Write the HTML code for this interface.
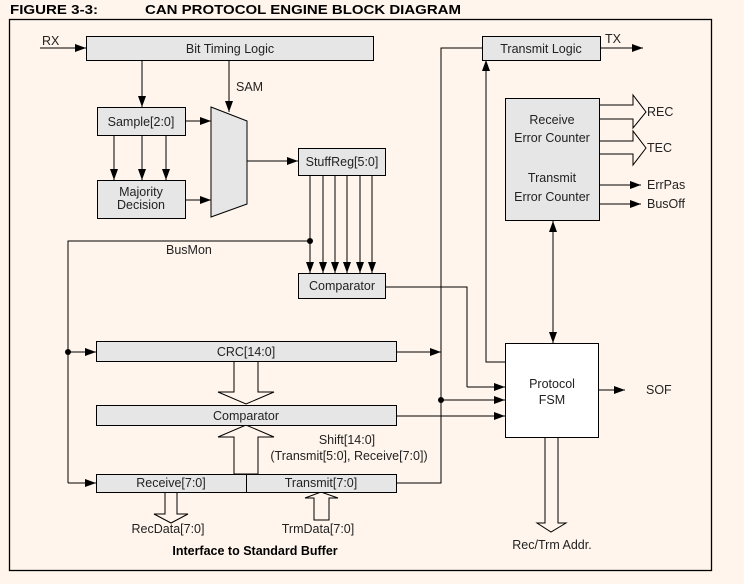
<!DOCTYPE html>
<html><head><style>
html,body{margin:0;padding:0;background:#fff5ec;}
svg{display:block;font-family:"Liberation Sans",Arial,sans-serif;}
</style></head><body>
<svg width="744" height="584" viewBox="0 0 744 584" xmlns="http://www.w3.org/2000/svg">
<defs>
<marker id="a" markerWidth="11" markerHeight="8" refX="11" refY="4" orient="auto" markerUnits="userSpaceOnUse">
<path d="M0,0 L11,4 L0,8 z" fill="#000"/></marker>
</defs>
<rect width="744" height="584" fill="#fff5ec"/>
<text x="10" y="14" font-size="13" font-weight="bold" textLength="88" lengthAdjust="spacingAndGlyphs">FIGURE 3-3:</text>
<text x="145" y="14" font-size="13" font-weight="bold" textLength="316" lengthAdjust="spacingAndGlyphs">CAN PROTOCOL ENGINE BLOCK DIAGRAM</text>
<rect x="9.5" y="19.5" width="702" height="551" fill="none" stroke="#000" stroke-width="1.3"/>

<g stroke="#000" stroke-width="1" fill="none">
<line x1="40" y1="48" x2="86" y2="48" marker-end="url(#a)"/>
<line x1="142" y1="60" x2="142" y2="107" marker-end="url(#a)"/>
<line x1="229" y1="60" x2="229" y2="112" marker-end="url(#a)"/>
<line x1="185" y1="121" x2="211" y2="121" marker-end="url(#a)"/>
<line x1="185" y1="200" x2="211" y2="200" marker-end="url(#a)"/>
<line x1="114" y1="135" x2="114" y2="180" marker-end="url(#a)"/>
<line x1="142" y1="135" x2="142" y2="180" marker-end="url(#a)"/>
<line x1="166" y1="135" x2="166" y2="180" marker-end="url(#a)"/>
<line x1="247" y1="161" x2="298" y2="161" marker-end="url(#a)"/>
<line x1="310" y1="175" x2="310" y2="273" marker-end="url(#a)"/>
<line x1="323" y1="175" x2="323" y2="273" marker-end="url(#a)"/>
<line x1="335" y1="175" x2="335" y2="273" marker-end="url(#a)"/>
<line x1="347" y1="175" x2="347" y2="273" marker-end="url(#a)"/>
<line x1="360" y1="175" x2="360" y2="273" marker-end="url(#a)"/>
<line x1="372" y1="175" x2="372" y2="273" marker-end="url(#a)"/>
<polyline points="310,241 68,241 68,483"/>
<line x1="68" y1="352" x2="96" y2="352" marker-end="url(#a)"/>
<line x1="68" y1="483" x2="96" y2="483" marker-end="url(#a)"/>
<polyline points="385,287 467,287 467,387"/>
<line x1="467" y1="387" x2="505" y2="387" marker-end="url(#a)"/>
<line x1="396" y1="352" x2="441" y2="352" marker-end="url(#a)"/>
<polyline points="482,48 441,48 441,483 396,483"/>
<line x1="441" y1="400" x2="505" y2="400" marker-end="url(#a)"/>
<line x1="396" y1="416" x2="505" y2="416" marker-end="url(#a)"/>
<polyline points="505,362 486,362 486,60"/>
<line x1="486" y1="100" x2="486" y2="60" marker-end="url(#a)"/>
<line x1="600" y1="48" x2="643" y2="48" marker-end="url(#a)"/>
<line x1="553" y1="235" x2="553" y2="221" marker-end="url(#a)"/>
<line x1="553" y1="230" x2="553" y2="343" marker-end="url(#a)"/>
<polyline points="599,105 633,105 633,95 646,112 633,128 633,119 599,119"/>
<polyline points="599,141 633,141 633,131 646,148 633,165 633,154 599,154"/>
<line x1="599" y1="185" x2="641" y2="185" marker-end="url(#a)"/>
<line x1="599" y1="204" x2="641" y2="204" marker-end="url(#a)"/>
<line x1="598" y1="390" x2="625" y2="390" marker-end="url(#a)"/>
<polygon points="234,361 234,392 218,392 246,404 274,392 258,392 258,361" fill="#fff5ec"/>
<polygon points="234,474 234,437 218,437 246,425 274,437 258,437 258,474" fill="#fff5ec"/>
<polygon points="165,492 165,514 154,514 171,523 188,514 177,514 177,492" fill="#fff5ec"/>
<polygon points="314,520 314,498 305,498 321,492 338,498 329,498 329,520" fill="none"/>
<polygon points="545,437 545,523 537,523 551,532 566,523 558,523 558,437" fill="#fff5ec"/>
</g>
<g fill="#000">
<circle cx="310" cy="241" r="3"/>
<circle cx="68" cy="352" r="3"/>
<circle cx="441" cy="400" r="3"/>
</g>

<g stroke="#000" stroke-width="1" fill="#e6e6e6">
<rect x="86.5" y="36.5" width="287" height="24"/>
<rect x="97.5" y="107.5" width="88" height="28"/>
<rect x="97.5" y="180.5" width="88" height="38"/>
<polygon points="211,107 247,121 247,204 211,217"/>
<rect x="298.5" y="148.5" width="87" height="27"/>
<rect x="298.5" y="273.5" width="87" height="25"/>
<rect x="96.5" y="341.5" width="300" height="20"/>
<rect x="96.5" y="405.5" width="300" height="20"/>
<rect x="96.5" y="474.5" width="300" height="18"/>
<line x1="246.5" y1="474" x2="246.5" y2="492"/>
<rect x="482.5" y="36.5" width="118" height="24"/>
<rect x="505.5" y="98.5" width="94" height="122"/>
<rect x="505.5" y="343.5" width="93" height="94" fill="#fff"/>
</g>

<g font-size="12.5" fill="#222" text-anchor="middle">
<text x="230" y="53">Bit Timing Logic</text>
<text x="141" y="126">Sample[2:0]</text>
<text x="141" y="196">Majority</text>
<text x="141" y="209">Decision</text>
<text x="342" y="166">StuffReg[5:0]</text>
<text x="342" y="290">Comparator</text>
<text x="246" y="356">CRC[14:0]</text>
<text x="246" y="420">Comparator</text>
<text x="171" y="487">Receive[7:0]</text>
<text x="321" y="487">Transmit[7:0]</text>
<text x="541" y="53">Transmit Logic</text>
<text x="552" y="124">Receive</text>
<text x="552" y="142">Error Counter</text>
<text x="552" y="182">Transmit</text>
<text x="552" y="201">Error Counter</text>
<text x="552" y="388">Protocol</text>
<text x="552" y="404">FSM</text>
<text x="347" y="444">Shift[14:0]</text>
<text x="349" y="460">(Transmit[5:0], Receive[7:0])</text>
<text x="168" y="533">RecData[7:0]</text>
<text x="318" y="533">TrmData[7:0]</text>
<text x="552" y="549">Rec/Trm Addr.</text>
<text x="255" y="555" font-weight="bold" fill="#000">Interface to Standard Buffer</text>
</g>
<g font-size="12.5" fill="#222">
<text x="42" y="45">RX</text>
<text x="236" y="91">SAM</text>
<text x="166" y="254">BusMon</text>
<text x="605" y="43">TX</text>
<text x="647" y="116">REC</text>
<text x="647" y="152">TEC</text>
<text x="647" y="189">ErrPas</text>
<text x="647" y="208">BusOff</text>
<text x="646" y="394">SOF</text>
</g>
</svg>
</body></html>
